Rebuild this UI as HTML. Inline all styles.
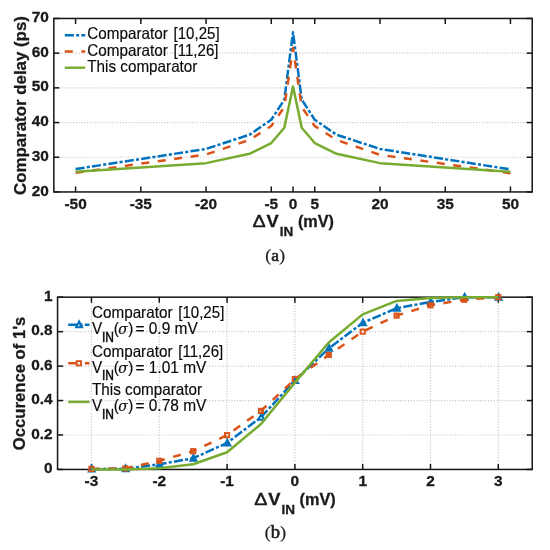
<!DOCTYPE html>
<html><head><meta charset="utf-8"><title>Comparator delay and occurrence of 1's</title>
<style>
html,body{margin:0;padding:0;background:#fff;}
svg{display:block}
text{font-family:"Liberation Sans",sans-serif;fill:#1a1a1a}
.tl{font-size:15.4px;font-weight:bold;stroke:#1a1a1a;stroke-width:0.3px}
.lab{font-size:16.2px;font-weight:bold;stroke:#1a1a1a;stroke-width:0.3px}
.ylab{font-size:16.85px}
.sub{font-size:13.5px;font-weight:bold}
.delta{font-weight:normal;stroke-width:0.35px}
.lg{font-size:15.25px;fill:#0a0a0a;stroke:#0a0a0a;stroke-width:0.15px}
.lsub{font-size:13.4px;stroke:#0a0a0a;stroke-width:0.45px}
.l2{font-size:15.5px}
.lbr{font-size:15.1px}
.sig{font-family:"DejaVu Serif","Liberation Serif",serif;font-style:italic;font-size:14px}
.cap{font-family:"Liberation Serif","DejaVu Serif",serif;font-size:17.5px;fill:#1c1c1c;stroke:#1c1c1c;stroke-width:0.25px;letter-spacing:0.25px}
.capl{stroke-width:0.6px}
.grid{stroke:#c2c2c2;stroke-width:1.2;stroke-dasharray:1 1.76}
.frame{fill:none;stroke:#141414;stroke-width:1.5}
.tick{stroke:#141414;stroke-width:1.5}
</style></head><body>
<svg width="550" height="550" viewBox="0 0 550 550">
<rect width="550" height="550" fill="#ffffff"/>
<line x1="53.84" y1="157.25" x2="532.20" y2="157.25" class="grid"/>
<line x1="53.84" y1="122.56" x2="532.20" y2="122.56" class="grid"/>
<line x1="53.84" y1="87.86" x2="532.20" y2="87.86" class="grid"/>
<line x1="53.84" y1="53.17" x2="532.20" y2="53.17" class="grid"/>
<rect x="53.84" y="18.47" width="478.36" height="173.48" class="frame"/>
<line x1="75.58" y1="191.95" x2="75.58" y2="186.45" class="tick"/>
<line x1="75.58" y1="18.47" x2="75.58" y2="23.97" class="tick"/>
<line x1="140.81" y1="191.95" x2="140.81" y2="186.45" class="tick"/>
<line x1="140.81" y1="18.47" x2="140.81" y2="23.97" class="tick"/>
<line x1="206.05" y1="191.95" x2="206.05" y2="186.45" class="tick"/>
<line x1="206.05" y1="18.47" x2="206.05" y2="23.97" class="tick"/>
<line x1="271.28" y1="191.95" x2="271.28" y2="186.45" class="tick"/>
<line x1="271.28" y1="18.47" x2="271.28" y2="23.97" class="tick"/>
<line x1="293.02" y1="191.95" x2="293.02" y2="186.45" class="tick"/>
<line x1="293.02" y1="18.47" x2="293.02" y2="23.97" class="tick"/>
<line x1="314.76" y1="191.95" x2="314.76" y2="186.45" class="tick"/>
<line x1="314.76" y1="18.47" x2="314.76" y2="23.97" class="tick"/>
<line x1="379.99" y1="191.95" x2="379.99" y2="186.45" class="tick"/>
<line x1="379.99" y1="18.47" x2="379.99" y2="23.97" class="tick"/>
<line x1="445.23" y1="191.95" x2="445.23" y2="186.45" class="tick"/>
<line x1="445.23" y1="18.47" x2="445.23" y2="23.97" class="tick"/>
<line x1="510.46" y1="191.95" x2="510.46" y2="186.45" class="tick"/>
<line x1="510.46" y1="18.47" x2="510.46" y2="23.97" class="tick"/>
<line x1="53.84" y1="191.95" x2="59.34" y2="191.95" class="tick"/>
<line x1="532.20" y1="191.95" x2="526.70" y2="191.95" class="tick"/>
<line x1="53.84" y1="157.25" x2="59.34" y2="157.25" class="tick"/>
<line x1="532.20" y1="157.25" x2="526.70" y2="157.25" class="tick"/>
<line x1="53.84" y1="122.56" x2="59.34" y2="122.56" class="tick"/>
<line x1="532.20" y1="122.56" x2="526.70" y2="122.56" class="tick"/>
<line x1="53.84" y1="87.86" x2="59.34" y2="87.86" class="tick"/>
<line x1="532.20" y1="87.86" x2="526.70" y2="87.86" class="tick"/>
<line x1="53.84" y1="53.17" x2="59.34" y2="53.17" class="tick"/>
<line x1="532.20" y1="53.17" x2="526.70" y2="53.17" class="tick"/>
<line x1="53.84" y1="18.47" x2="59.34" y2="18.47" class="tick"/>
<line x1="532.20" y1="18.47" x2="526.70" y2="18.47" class="tick"/>
<text x="75.58" y="209.15" class="tl" text-anchor="middle">-50</text>
<text x="140.81" y="209.15" class="tl" text-anchor="middle">-35</text>
<text x="206.05" y="209.15" class="tl" text-anchor="middle">-20</text>
<text x="271.28" y="209.15" class="tl" text-anchor="middle">-5</text>
<text x="293.02" y="209.15" class="tl" text-anchor="middle">0</text>
<text x="314.76" y="209.15" class="tl" text-anchor="middle">5</text>
<text x="379.99" y="209.15" class="tl" text-anchor="middle">20</text>
<text x="445.23" y="209.15" class="tl" text-anchor="middle">35</text>
<text x="510.46" y="209.15" class="tl" text-anchor="middle">50</text>
<text x="48.84" y="195.55" class="tl" text-anchor="end">20</text>
<text x="48.84" y="160.85" class="tl" text-anchor="end">30</text>
<text x="48.84" y="126.16" class="tl" text-anchor="end">40</text>
<text x="48.84" y="91.46" class="tl" text-anchor="end">50</text>
<text x="48.84" y="56.77" class="tl" text-anchor="end">60</text>
<text x="48.84" y="22.07" class="tl" text-anchor="end">70</text>
<polyline points="75.58,169.05 206.05,148.93 249.53,134.70 271.28,119.78 284.32,99.66 293.02,32.35 301.72,99.66 314.76,119.78 336.51,134.70 379.99,148.93 510.46,169.40" fill="none" stroke="#0072bd" stroke-width="2.5" stroke-linejoin="round" stroke-dasharray="9.1 2.2 3.1 2.2"/>
<polyline points="75.58,172.87 206.05,154.48 249.53,139.91 271.28,126.03 284.32,106.94 293.02,47.96 301.72,106.94 314.76,126.03 336.51,139.91 379.99,154.83 510.46,173.21" fill="none" stroke="#d95319" stroke-width="2.5" stroke-linejoin="round" stroke-dasharray="8 8.6"/>
<polyline points="75.58,171.83 206.05,163.15 249.53,153.78 271.28,143.03 284.32,127.76 293.02,86.47 301.72,127.76 314.76,143.03 336.51,153.78 379.99,163.15 510.46,171.83" fill="none" stroke="#77ac30" stroke-width="2.5" stroke-linejoin="round"/>
<line x1="64.8" y1="35.20" x2="85.2" y2="35.20" stroke="#0072bd" stroke-width="2.4" stroke-dasharray="9.1 2.2 3.1 2.2"/>
<text transform="translate(87.3,39.40) scale(1,1.08)" class="lg"><tspan x="0">Comparator </tspan><tspan x="86.2" class="lbr">[10,25]</tspan></text>
<line x1="64.8" y1="51.50" x2="85.2" y2="51.50" stroke="#d95319" stroke-width="2.4" stroke-dasharray="8 8.6"/>
<text transform="translate(87.3,55.70) scale(1,1.08)" class="lg"><tspan x="0">Comparator </tspan><tspan x="86.2" class="lbr">[11,26]</tspan></text>
<line x1="64.8" y1="67.70" x2="85.2" y2="67.70" stroke="#77ac30" stroke-width="2.4"/>
<text transform="translate(87.3,72.00) scale(1,1.08)" class="lg">This comparator</text>
<text transform="translate(25.6,105.5) rotate(-90)" class="lab ylab" text-anchor="middle">Comparator delay (ps)</text>
<text y="227.3" class="lab"><tspan x="252.60" class="delta" textLength="13.2" lengthAdjust="spacingAndGlyphs">Δ</tspan><tspan x="266.60" textLength="12.2" lengthAdjust="spacingAndGlyphs">V</tspan><tspan x="279.80" dy="9" class="sub">IN</tspan><tspan x="293.40" dy="-9"> (mV)</tspan></text>
<text x="275.3" y="260.5" class="cap" text-anchor="middle">(<tspan class="capl">a</tspan>)</text>
<line x1="57.56" y1="435.00" x2="532.20" y2="435.00" class="grid"/>
<line x1="57.56" y1="400.54" x2="532.20" y2="400.54" class="grid"/>
<line x1="57.56" y1="366.09" x2="532.20" y2="366.09" class="grid"/>
<line x1="57.56" y1="331.63" x2="532.20" y2="331.63" class="grid"/>
<line x1="91.46" y1="297.17" x2="91.46" y2="469.46" class="grid"/>
<line x1="159.27" y1="297.17" x2="159.27" y2="469.46" class="grid"/>
<line x1="227.07" y1="297.17" x2="227.07" y2="469.46" class="grid"/>
<line x1="294.88" y1="297.17" x2="294.88" y2="469.46" class="grid"/>
<line x1="362.69" y1="297.17" x2="362.69" y2="469.46" class="grid"/>
<line x1="430.49" y1="297.17" x2="430.49" y2="469.46" class="grid"/>
<line x1="498.30" y1="297.17" x2="498.30" y2="469.46" class="grid"/>
<rect x="57.56" y="297.17" width="474.64" height="172.29" class="frame"/>
<line x1="91.46" y1="469.46" x2="91.46" y2="463.96" class="tick"/>
<line x1="91.46" y1="297.17" x2="91.46" y2="302.67" class="tick"/>
<line x1="159.27" y1="469.46" x2="159.27" y2="463.96" class="tick"/>
<line x1="159.27" y1="297.17" x2="159.27" y2="302.67" class="tick"/>
<line x1="227.07" y1="469.46" x2="227.07" y2="463.96" class="tick"/>
<line x1="227.07" y1="297.17" x2="227.07" y2="302.67" class="tick"/>
<line x1="294.88" y1="469.46" x2="294.88" y2="463.96" class="tick"/>
<line x1="294.88" y1="297.17" x2="294.88" y2="302.67" class="tick"/>
<line x1="362.69" y1="469.46" x2="362.69" y2="463.96" class="tick"/>
<line x1="362.69" y1="297.17" x2="362.69" y2="302.67" class="tick"/>
<line x1="430.49" y1="469.46" x2="430.49" y2="463.96" class="tick"/>
<line x1="430.49" y1="297.17" x2="430.49" y2="302.67" class="tick"/>
<line x1="498.30" y1="469.46" x2="498.30" y2="463.96" class="tick"/>
<line x1="498.30" y1="297.17" x2="498.30" y2="302.67" class="tick"/>
<line x1="57.56" y1="469.46" x2="63.06" y2="469.46" class="tick"/>
<line x1="532.20" y1="469.46" x2="526.70" y2="469.46" class="tick"/>
<line x1="57.56" y1="435.00" x2="63.06" y2="435.00" class="tick"/>
<line x1="532.20" y1="435.00" x2="526.70" y2="435.00" class="tick"/>
<line x1="57.56" y1="400.54" x2="63.06" y2="400.54" class="tick"/>
<line x1="532.20" y1="400.54" x2="526.70" y2="400.54" class="tick"/>
<line x1="57.56" y1="366.09" x2="63.06" y2="366.09" class="tick"/>
<line x1="532.20" y1="366.09" x2="526.70" y2="366.09" class="tick"/>
<line x1="57.56" y1="331.63" x2="63.06" y2="331.63" class="tick"/>
<line x1="532.20" y1="331.63" x2="526.70" y2="331.63" class="tick"/>
<line x1="57.56" y1="297.17" x2="63.06" y2="297.17" class="tick"/>
<line x1="532.20" y1="297.17" x2="526.70" y2="297.17" class="tick"/>
<text x="91.46" y="485.56" class="tl" text-anchor="middle">-3</text>
<text x="159.27" y="485.56" class="tl" text-anchor="middle">-2</text>
<text x="227.07" y="485.56" class="tl" text-anchor="middle">-1</text>
<text x="294.88" y="485.56" class="tl" text-anchor="middle">0</text>
<text x="362.69" y="485.56" class="tl" text-anchor="middle">1</text>
<text x="430.49" y="485.56" class="tl" text-anchor="middle">2</text>
<text x="498.30" y="485.56" class="tl" text-anchor="middle">3</text>
<text x="52.56" y="473.06" class="tl" text-anchor="end">0</text>
<text x="52.56" y="438.60" class="tl" text-anchor="end">0.2</text>
<text x="52.56" y="404.14" class="tl" text-anchor="end">0.4</text>
<text x="52.56" y="369.69" class="tl" text-anchor="end">0.6</text>
<text x="52.56" y="335.23" class="tl" text-anchor="end">0.8</text>
<text x="52.56" y="300.77" class="tl" text-anchor="end">1</text>
<polyline points="91.46,468.94 125.37,468.77 159.27,464.29 193.17,458.26 227.07,442.93 260.98,417.26 294.88,380.56 328.78,348.34 362.69,322.84 396.59,308.20 430.49,301.99 464.39,297.17 498.30,297.17" fill="none" stroke="#0072bd" stroke-width="2.5" stroke-linejoin="round" stroke-dasharray="9.1 2.2 3.1 2.2"/>
<path d="M87.11,472.44 L96.41,472.44 L91.76,463.54 Z" fill="#0072bd" fill-rule="evenodd"/>
<path d="M121.02,472.27 L130.32,472.27 L125.67,463.37 Z" fill="#0072bd" fill-rule="evenodd"/>
<path d="M154.92,467.79 L164.22,467.79 L159.57,458.89 Z" fill="#0072bd" fill-rule="evenodd"/>
<path d="M188.82,461.76 L198.12,461.76 L193.47,452.86 Z" fill="#0072bd" fill-rule="evenodd"/>
<path d="M222.72,446.43 L232.02,446.43 L227.37,437.53 Z" fill="#0072bd" fill-rule="evenodd"/>
<path d="M256.63,420.76 L265.93,420.76 L261.28,411.86 Z M259.98,418.76 L261.28,416.26 L262.58,418.76 Z" fill="#0072bd" fill-rule="evenodd"/>
<path d="M290.53,384.06 L299.83,384.06 L295.18,375.16 Z" fill="#0072bd" fill-rule="evenodd"/>
<path d="M324.43,351.84 L333.73,351.84 L329.08,342.94 Z" fill="#0072bd" fill-rule="evenodd"/>
<path d="M358.34,326.34 L367.64,326.34 L362.99,317.44 Z" fill="#0072bd" fill-rule="evenodd"/>
<path d="M392.24,311.70 L401.54,311.70 L396.89,302.80 Z" fill="#0072bd" fill-rule="evenodd"/>
<path d="M426.14,305.49 L435.44,305.49 L430.79,296.59 Z" fill="#0072bd" fill-rule="evenodd"/>
<path d="M460.04,300.67 L469.34,300.67 L464.69,291.77 Z" fill="#0072bd" fill-rule="evenodd"/>
<path d="M493.95,300.67 L503.25,300.67 L498.60,291.77 Z" fill="#0072bd" fill-rule="evenodd"/>
<polyline points="91.46,468.94 125.37,468.43 159.27,460.85 193.17,451.20 227.07,435.17 260.98,410.88 294.88,379.18 328.78,354.89 362.69,331.63 396.59,315.61 430.49,305.27 464.39,299.75 498.30,297.17" fill="none" stroke="#d95319" stroke-width="2.5" stroke-linejoin="round" stroke-dasharray="8 8.6"/>
<rect x="89.31" y="466.79" width="4.30" height="4.30" fill="none" stroke="#d95319" stroke-width="1.9"/>
<rect x="123.22" y="466.28" width="4.30" height="4.30" fill="none" stroke="#d95319" stroke-width="1.9"/>
<rect x="157.12" y="458.70" width="4.30" height="4.30" fill="none" stroke="#d95319" stroke-width="1.9"/>
<rect x="191.02" y="449.05" width="4.30" height="4.30" fill="none" stroke="#d95319" stroke-width="1.9"/>
<rect x="224.92" y="433.02" width="4.30" height="4.30" fill="none" stroke="#d95319" stroke-width="1.9"/>
<rect x="258.83" y="408.73" width="4.30" height="4.30" fill="none" stroke="#d95319" stroke-width="1.9"/>
<rect x="292.73" y="377.03" width="4.30" height="4.30" fill="none" stroke="#d95319" stroke-width="1.9"/>
<rect x="326.63" y="352.74" width="4.30" height="4.30" fill="none" stroke="#d95319" stroke-width="1.9"/>
<rect x="360.54" y="329.48" width="4.30" height="4.30" fill="none" stroke="#d95319" stroke-width="1.9"/>
<rect x="394.44" y="313.46" width="4.30" height="4.30" fill="none" stroke="#d95319" stroke-width="1.9"/>
<rect x="428.34" y="303.12" width="4.30" height="4.30" fill="none" stroke="#d95319" stroke-width="1.9"/>
<rect x="462.24" y="297.60" width="4.30" height="4.30" fill="none" stroke="#d95319" stroke-width="1.9"/>
<rect x="496.15" y="295.02" width="4.30" height="4.30" fill="none" stroke="#d95319" stroke-width="1.9"/>
<polyline points="91.46,469.46 125.37,469.46 159.27,468.25 193.17,464.29 227.07,452.23 260.98,423.98 294.88,382.63 328.78,342.48 362.69,314.40 396.59,300.96 430.49,298.03 464.39,297.17 498.30,297.17" fill="none" stroke="#77ac30" stroke-width="2.5" stroke-linejoin="round"/>
<line x1="68.2" y1="324.70" x2="89.5" y2="324.70" stroke="#0072bd" stroke-width="2.5" stroke-dasharray="9.1 2.2 3.1 2.2"/>
<path d="M74.50,328.20 L83.80,328.20 L79.15,319.30 Z M77.85,326.20 L79.15,323.70 L80.45,326.20 Z" fill="#0072bd" fill-rule="evenodd"/>
<text transform="translate(92,318.20) scale(1,1.08)" class="lg"><tspan x="0">Comparator </tspan><tspan x="86.2" class="lbr">[10,25]</tspan></text>
<text transform="translate(92,333.90) scale(1,1.08)" class="lg"><tspan x="0">V</tspan><tspan x="9.9" dy="7.13" class="lsub" textLength="12" lengthAdjust="spacingAndGlyphs">IN</tspan><tspan x="21.8" dy="-7.13">(</tspan><tspan class="sig" dx="-0.7">σ</tspan><tspan dx="0.4">)</tspan><tspan x="43.4" class="l2">= 0.9 mV</tspan></text>
<line x1="68.2" y1="363.30" x2="89.5" y2="363.30" stroke="#d95319" stroke-width="2.5" stroke-dasharray="8 8.6"/>
<rect x="76.70" y="361.15" width="4.30" height="4.30" fill="none" stroke="#d95319" stroke-width="1.9"/>
<text transform="translate(92,356.80) scale(1,1.08)" class="lg"><tspan x="0">Comparator </tspan><tspan x="86.2" class="lbr">[11,26]</tspan></text>
<text transform="translate(92,372.50) scale(1,1.08)" class="lg"><tspan x="0">V</tspan><tspan x="9.9" dy="7.13" class="lsub" textLength="12" lengthAdjust="spacingAndGlyphs">IN</tspan><tspan x="21.8" dy="-7.13">(</tspan><tspan class="sig" dx="-0.7">σ</tspan><tspan dx="0.4">)</tspan><tspan x="43.4" class="l2">= 1.01 mV</tspan></text>
<line x1="68.2" y1="401.90" x2="89.5" y2="401.90" stroke="#77ac30" stroke-width="2.5"/>
<text transform="translate(92,395.40) scale(1,1.08)" class="lg">This comparator</text>
<text transform="translate(92,411.10) scale(1,1.08)" class="lg"><tspan x="0">V</tspan><tspan x="9.9" dy="7.13" class="lsub" textLength="12" lengthAdjust="spacingAndGlyphs">IN</tspan><tspan x="21.8" dy="-7.13">(</tspan><tspan class="sig" dx="-0.7">σ</tspan><tspan dx="0.4">)</tspan><tspan x="43.4" class="l2">= 0.78 mV</tspan></text>
<text transform="translate(25.3,383.4) rotate(-90)" class="lab ylab" style="font-size:16.67px" text-anchor="middle">Occurence of 1's</text>
<text y="505.1" class="lab"><tspan x="254.30" class="delta" textLength="13.2" lengthAdjust="spacingAndGlyphs">Δ</tspan><tspan x="268.30" textLength="12.2" lengthAdjust="spacingAndGlyphs">V</tspan><tspan x="281.50" dy="9" class="sub">IN</tspan><tspan x="295.10" dy="-9"> (mV)</tspan></text>
<text x="275.6" y="537.6" class="cap" text-anchor="middle">(<tspan class="capl" style="font-size:18.6px">b</tspan>)</text>
</svg>
</body></html>
